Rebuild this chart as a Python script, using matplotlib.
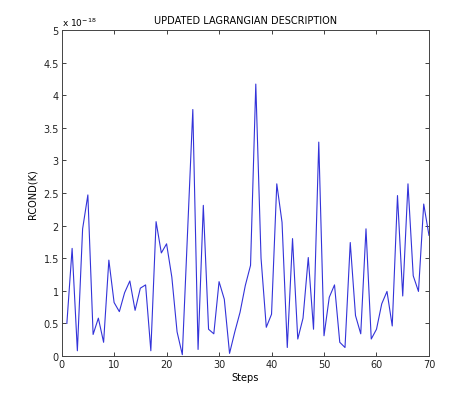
import matplotlib
matplotlib.use("Agg")
import matplotlib.pyplot as plt
from matplotlib.ticker import FuncFormatter, MultipleLocator
import numpy as np

# RCOND(K) values, in units of 1e-18
steps = np.arange(1, 71)
rcond = [0.50, 1.65, 0.08, 1.95, 2.47, 0.33, 0.58, 0.21, 1.47, 0.82,
         0.68, 0.97, 1.15, 0.70, 1.04, 1.09, 0.08, 2.06, 1.58, 1.72,
         1.21, 0.37, 0.02, 1.90, 3.78, 0.10, 2.31, 0.41, 0.34, 1.14,
         0.87, 0.04, 0.37, 0.67, 1.08, 1.39, 4.17, 1.50, 0.44, 0.64,
         2.64, 2.05, 0.13, 1.80, 0.26, 0.58, 1.51, 0.41, 3.28, 0.31,
         0.90, 1.09, 0.21, 0.13, 1.74, 0.62, 0.34, 1.95, 0.26, 0.41,
         0.80, 0.99, 0.46, 2.46, 0.92, 2.64, 1.23, 0.99, 2.33, 1.85]
scale = 1e-18

fig = plt.figure(figsize=(4.74, 4.02), dpi=100)
ax = fig.add_axes([0.13, 0.112, 0.775, 0.811])
ax.plot(steps, np.array(rcond) * scale, color=(0.2, 0.2, 0.85), lw=0.8)

ax.set_xlim(0, 70)
ax.set_ylim(0, 5 * scale)
ax.xaxis.set_major_locator(MultipleLocator(10))
ax.yaxis.set_major_locator(MultipleLocator(0.5 * scale))
ax.yaxis.set_major_formatter(FuncFormatter(lambda v, p: "%g" % round(v / scale, 2)))
ax.yaxis.get_offset_text().set_visible(False)

ax.tick_params(direction="in", length=3, width=0.6, labelsize=7,
               top=True, right=True, colors="#222222", pad=2)
for s in ax.spines.values():
    s.set_linewidth(0.7)
    s.set_color("#444444")

ax.set_title("UPDATED LAGRANGIAN DESCRIPTION", fontsize=7, pad=5)
ax.set_xlabel("Steps", fontsize=7, labelpad=2)
ax.set_ylabel("RCOND(K)", fontsize=7, labelpad=4)
ax.text(0.0, 1.005, r"x 10$^{-18}$", transform=ax.transAxes, fontsize=6.5,
        ha="left", va="bottom")

fig.savefig("out.png", dpi=100)
